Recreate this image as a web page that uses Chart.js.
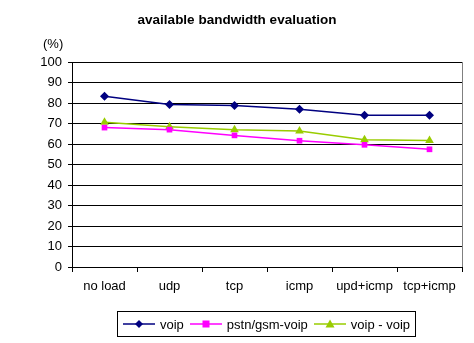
<!DOCTYPE html>
<html><head><meta charset="utf-8">
<script src="https://cdn.jsdelivr.net/npm/chart.js@4/dist/chart.umd.min.js"></script>
<style>
html,body{margin:0;padding:0;background:#fff;}
#wrap{position:relative;width:474px;height:343px;font-family:"Liberation Sans",Arial,sans-serif;}
canvas{position:absolute;left:0;top:0;}
#title{position:absolute;left:0;width:474px;top:12px;line-height:16px;text-align:center;font-weight:bold;font-size:13.5px;color:#000;}
#unit{position:absolute;left:43px;top:36px;line-height:16px;font-size:13px;color:#000;}
#legend{position:absolute;left:117px;top:311px;height:24px;padding-right:5px;border:1px solid #000;display:flex;align-items:center;font-size:13px;color:#000;box-sizing:content-box;}
#legend .it{display:flex;align-items:center;margin-left:6px;}
#legend .it:first-child{margin-left:5px;}
#legend svg{margin-right:5px;}
</style></head>
<body><div id="wrap">
<canvas id="c" width="474" height="343"></canvas>
<div id="title">available bandwidth evaluation</div>
<div id="unit">(%)</div>
<div id="legend"></div>
</div>
<script>
const categories = ["no load","udp","tcp","icmp","upd+icmp","tcp+icmp"];
const voip = [83.3, 79.3, 78.8, 76.9, 74.0, 74.0];
const pstnGsmVoip = [68.0, 67.0, 64.2, 61.6, 59.6, 57.4];
const voipVoip = [70.6, 68.4, 66.9, 66.3, 62.1, 61.7];
const yTicks = [0,10,20,30,40,50,60,70,80,90,100];
const seriesNames = ["voip","pstn/gsm-voip","voip - voip"];

const colors = ["#000080","#FF00FF","#99CC00"];
const styles = ["rectRot","rect","triangle"];
const radii = [4.5,4,5];

const rightBorder = {
  id:'rightBorder',
  afterDraw(chart){
    const a = chart.chartArea, ctx = chart.ctx;
    ctx.save();
    ctx.strokeStyle = '#808080'; ctx.lineWidth = 1;
    ctx.beginPath(); ctx.moveTo(Math.round(a.right)+0.5, a.top); ctx.lineTo(Math.round(a.right)+0.5, a.bottom); ctx.stroke();
    ctx.restore();
  }
};

new Chart(document.getElementById('c'), {
  type:'line',
  data:{
    labels:categories,
    datasets:[voip,pstnGsmVoip,voipVoip].map((d,i)=>({
      label:seriesNames[i], data:d, borderColor:colors[i], backgroundColor:colors[i],
      borderWidth:1.5, pointStyle:styles[i], pointRadius:radii[i], pointBorderWidth:0,
      tension:0, fill:false
    }))
  },
  options:{
    responsive:false, animation:false, devicePixelRatio:1,
    layout:{padding:{left:0,top:62,right:12,bottom:0}},
    plugins:{legend:{display:false},title:{display:false},tooltip:{enabled:false}},
    scales:{
      x:{
        offset:true,
        grid:{offset:true,drawOnChartArea:false,drawTicks:true,tickLength:5,color:'#000'},
        border:{display:true,color:'#000',width:1},
        ticks:{color:'#000',font:{family:'Liberation Sans',size:13},padding:7,maxRotation:0},
        afterFit(s){ s.height = 76; }
      },
      y:{
        min:0,max:100,
        afterBuildTicks(s){ s.ticks = yTicks.map(v=>({value:v})); },
        grid:{color:'#000',lineWidth:1,tickLength:4,drawTicks:true},
        border:{display:true,color:'#000',width:1},
        ticks:{color:'#000',font:{family:'Liberation Sans',size:13},padding:6},
        afterFit(s){ s.width = 72; }
      }
    }
  },
  plugins:[rightBorder]
});

const lg = document.getElementById('legend');
seriesNames.forEach((n,i)=>{
  const it = document.createElement('div'); it.className='it';
  let mk='';
  if(styles[i]==='rectRot') mk=`<polygon points="16,1 20,5 16,9 12,5" fill="${colors[i]}"/>`;
  else if(styles[i]==='rect') mk=`<rect x="12.5" y="1.5" width="7" height="7" fill="${colors[i]}"/>`;
  else mk=`<polygon points="16,0.5 20.5,8.5 11.5,8.5" fill="${colors[i]}"/>`;
  it.innerHTML = `<svg width="32" height="10"><line x1="0" y1="5" x2="32" y2="5" stroke="${colors[i]}" stroke-width="1.5"/>${mk}</svg><span>${n}</span>`;
  lg.appendChild(it);
});
</script>
</body></html>
